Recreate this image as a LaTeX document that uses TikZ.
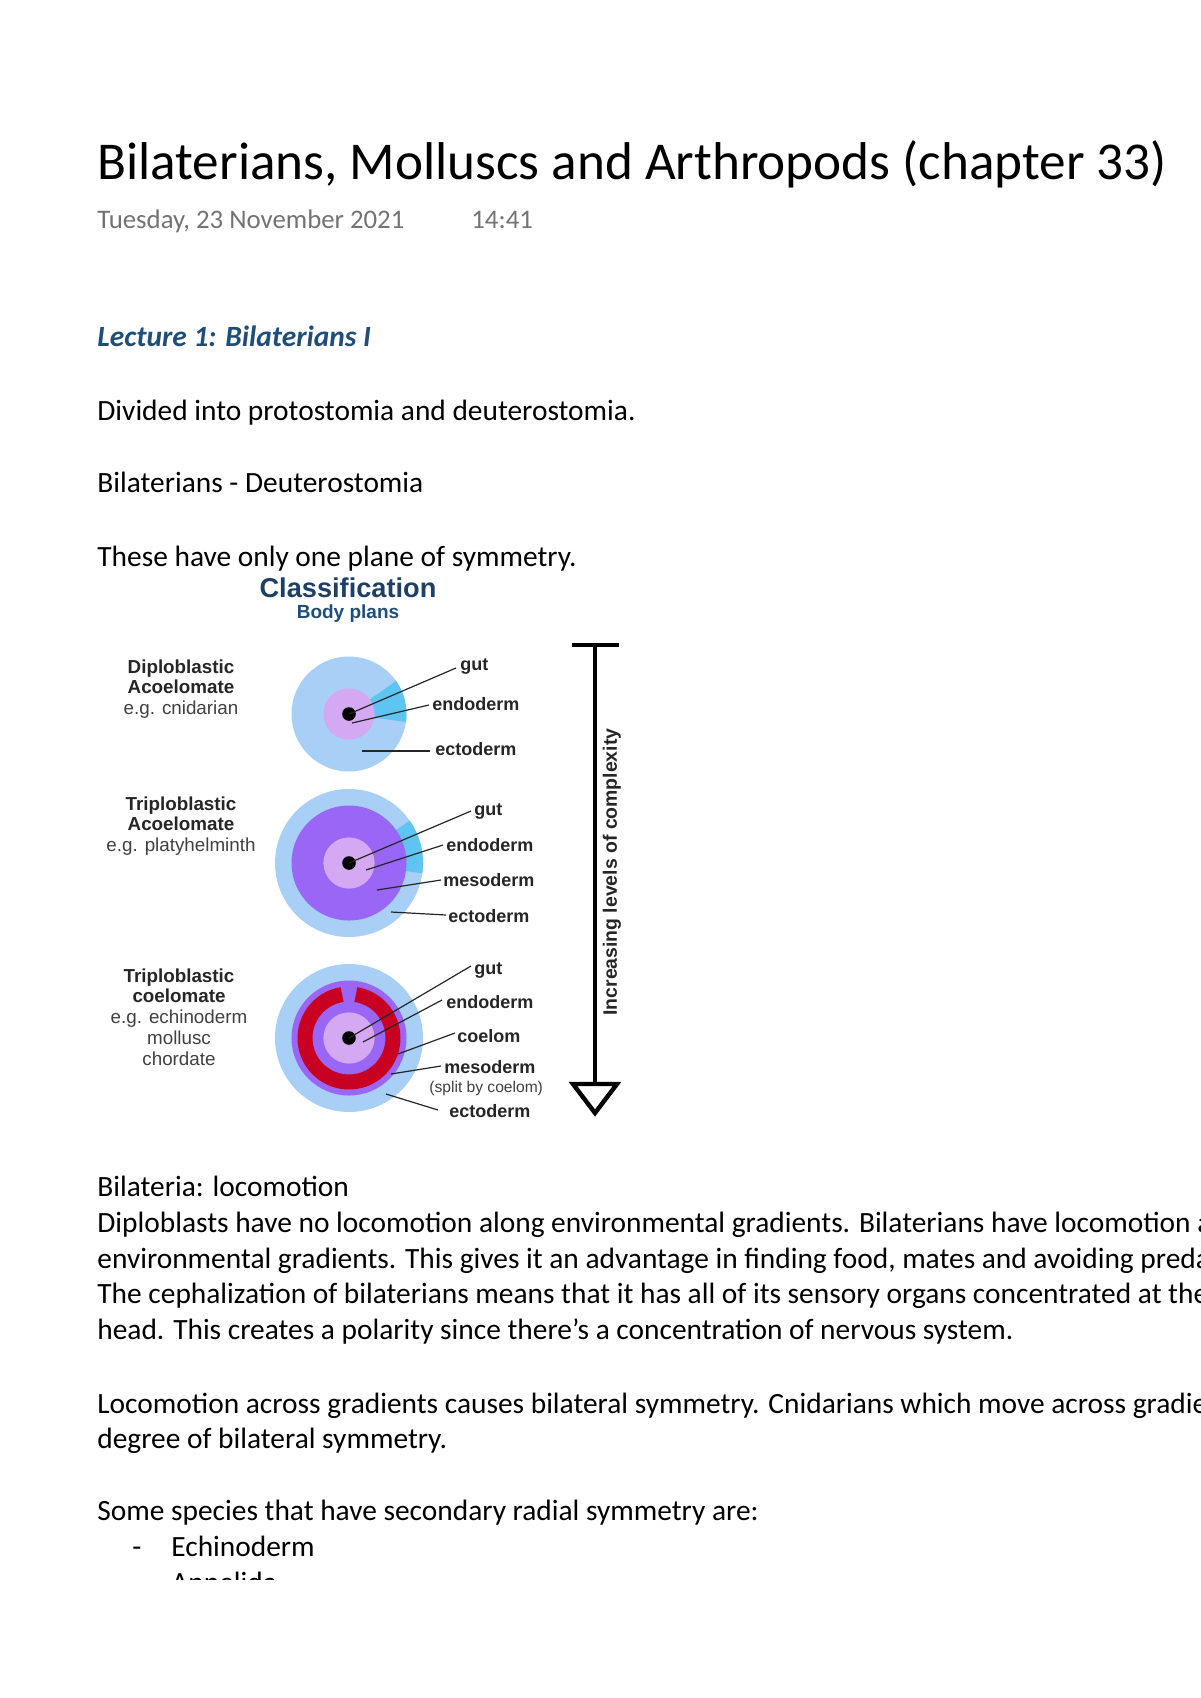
\documentclass[tikz,border=0pt]{standalone}
\usepackage{fontspec}
\setmainfont{Carlito}
\newfontfamily\arialf{Liberation Sans}
\begin{document}
\begin{tikzpicture}[x=0.5pt,y=-0.5pt,
  body/.style={anchor=base west,inner sep=0pt,font=\fontsize{14.7pt}{17pt}\selectfont},
  lab/.style={anchor=base west,inner sep=0pt,font=\arialf\bfseries\fontsize{9pt}{10pt}\selectfont,text=black!85},
  side/.style={align=center,inner sep=0pt,font=\arialf\fontsize{9.4pt}{10.4pt}\selectfont,text=black!75},
  lead/.style={line width=0.6pt,draw=black!85}]
\definecolor{ltblue}{HTML}{A8CFF6}
\definecolor{cyanw}{HTML}{5EC4F2}
\definecolor{lpink}{HTML}{D4A8F2}
\definecolor{purp}{HTML}{9966F5}
\definecolor{redr}{HTML}{C80022}
\definecolor{hblue}{HTML}{1F4E79}
\definecolor{dblue}{HTML}{1E3F66}
\useasboundingbox (0,0) rectangle (1200,1698);
\fill[white] (0,0) rectangle (1200,1698);
% header
\node[body,font=\fontsize{26.6pt}{30pt}\selectfont] (title) at (97,179) {Bilaterians, Molluscs and Arthropods (chapter 33)};
\node[body,text=black!55,font=\fontsize{13.4pt}{15pt}\selectfont] (date) at (97,228) {Tuesday, 23 November 2021};
\node[body,text=black!55,font=\fontsize{13.4pt}{15pt}\selectfont] (time) at (471,228) {14:41};
\node[body,text=hblue,font=\bfseries\itshape\fontsize{14.7pt}{17pt}\selectfont] (lect) at (97,346) {Lecture 1: Bilaterians I};
\node[body] (l1) at (97,420) {Divided into protostomia and deuterostomia.};
\node[body] (l2) at (97,492) {Bilaterians - Deuterostomia};
\node[body] (l3) at (97,566) {These have only one plane of symmetry.};
% figure title
\node[font=\arialf\bfseries\fontsize{13.6pt}{15pt}\selectfont,text=dblue] (cls) at (348,588) {Classification};
\node[font=\arialf\bfseries\fontsize{9.5pt}{11pt}\selectfont,text=hblue] (bp) at (348,614) {Body plans};
% circle 1
\coordinate (c1) at (349,714);
\fill[ltblue] (c1) circle[radius=28.75pt];
\fill[cyanw] (c1) -- ++(-8:28.75pt) arc[start angle=-8,end angle=35,radius=28.75pt] -- cycle;
\fill[lpink] (c1) circle[radius=12.8pt];
\fill[black] (c1) circle[radius=3.4pt];
% circle 2
\coordinate (c2) at (349,863);
\fill[ltblue] (c2) circle[radius=37pt];
\fill[cyanw] (c2) -- ++(-8:37pt) arc[start angle=-8,end angle=35,radius=37pt] -- cycle;
\fill[purp] (c2) circle[radius=28.75pt];
\fill[lpink] (c2) circle[radius=12.8pt];
\fill[black] (c2) circle[radius=3.4pt];
% circle 3
\coordinate (c3) at (349,1038);
\fill[ltblue] (c3) circle[radius=37pt];
\fill[purp] (c3) circle[radius=28.75pt];
\draw[redr,line width=7.5pt] (c3) ++(99:22pt) arc[start angle=99,end angle=441,radius=22pt];
\fill[lpink] (c3) circle[radius=12.8pt];
\fill[black] (c3) circle[radius=3.4pt];
% labels circle 1
\node[lab] (g1) at (460,670) {gut};
\node[lab] (e1) at (432,710) {endoderm};
\node[lab] (x1) at (435,755) {ectoderm};
\draw[lead] (c1) -- (456,668);
\draw[lead] (352,723) -- (429,705);
\draw[lead] (362,751) -- (430,751);
% labels circle 2
\node[lab] (g2) at (474,815) {gut};
\node[lab] (e2) at (446,851) {endoderm};
\node[lab] (m2) at (443,886) {mesoderm};
\node[lab] (x2) at (448,922) {ectoderm};
\draw[lead] (c2) -- (471,811);
\draw[lead] (366,870) -- (443,845);
\draw[lead] (377,890) -- (441,880);
\draw[lead] (391,912) -- (446,915);
% labels circle 3
\node[lab] (g3) at (474,974) {gut};
\node[lab] (e3) at (446,1008) {endoderm};
\node[lab] (k3) at (457,1042) {coelom};
\node[lab] (m3) at (444,1073) {mesoderm};
\node[anchor=base west,inner sep=0pt,font=\arialf\fontsize{7.8pt}{9pt}\selectfont,text=black!75] (s3) at (429,1092) {(split by coelom)};
\node[lab] (x3) at (449,1117) {ectoderm};
\draw[lead] (c3) -- (471,966);
\draw[lead] (363,1042) -- (442,1000);
\draw[lead] (398,1054) -- (455,1033);
\draw[lead] (391,1074) -- (441,1066);
\draw[lead] (386,1094) -- (438,1110);
% left labels
\node[side] (t1) at (181,689) {\bfseries\color{black!85}Diploblastic\\\bfseries\color{black!85}Acoelomate\\e.g. cnidarian};
\node[side] (t2) at (181,826) {\bfseries\color{black!85}Triploblastic\\\bfseries\color{black!85}Acoelomate\\e.g. platyhelminth};
\node[side] (t3) at (179,1017) {\bfseries\color{black!85}Triploblastic\\\bfseries\color{black!85}coelomate\\e.g. echinoderm\\mollusc\\chordate};
% complexity arrow
\coordinate (atop) at (595,645);
\coordinate (abot) at (595,1084);
\draw[line width=2.2pt] (572,645) -- (619,645);
\draw[line width=2.2pt] (atop) -- (abot);
\draw[line width=2.2pt,line join=miter] (573,1084) -- (617,1084) -- (595,1113) -- cycle;
\node[rotate=90,font=\arialf\bfseries\fontsize{9.7pt}{11pt}\selectfont,text=black!85] (cx) at (612,872) {Increasing levels of complexity};
% body text
\begin{scope}
\clip (0,0) rectangle (1200,1579);
\node[body] (b1) at (97,1196) {Bilateria: locomotion};
\node[body] (b2) at (97,1232) {Diploblasts have no locomotion along environmental gradients. Bilaterians have locomotion along};
\node[body] (b3) at (97,1268) {environmental gradients. This gives it an advantage in finding food, mates and avoiding predators.};
\node[body] (b4) at (97,1303) {The cephalization of bilaterians means that it has all of its sensory organs concentrated at the};
\node[body] (b5) at (97,1339) {head. This creates a polarity since there's a concentration of nervous system.};
\node[body] (b6) at (97,1413) {Locomotion across gradients causes bilateral symmetry. Cnidarians which move across gradients have a};
\node[body] (b7) at (97,1448) {degree of bilateral symmetry.};
\node[body] (b8) at (97,1520) {Some species that have secondary radial symmetry are:};
\node[body] (d1) at (132,1556) {-};
\node[body] (b9) at (171,1556) {Echinoderm};
\node[body] (d2) at (132,1592) {-};
\node[body] (b10) at (171,1592) {Annelida};
\end{scope}
\end{tikzpicture}
\end{document}
